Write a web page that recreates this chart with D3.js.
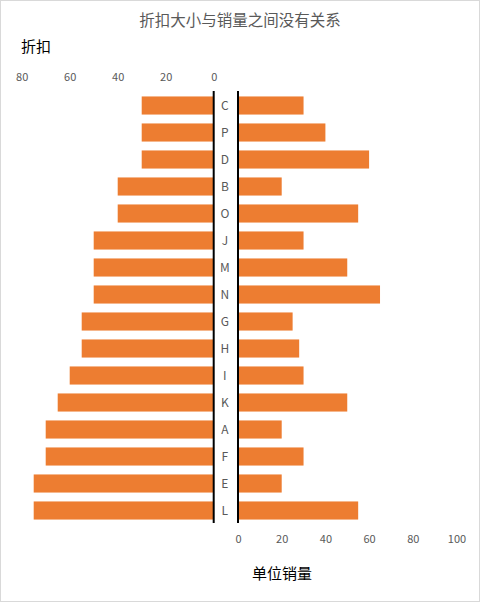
<!DOCTYPE html>
<html><head><meta charset="utf-8">
<script src="https://cdn.jsdelivr.net/npm/d3@7"></script>
<style>
html,body{margin:0;padding:0;background:#fff;}
svg{display:block;}
text{font-family:"Noto Sans CJK SC","Noto Sans",sans-serif;}
</style></head>
<body>
<svg id="chart" width="480" height="602"></svg>
<script>
const categories = ["C","P","D","B","O","J","M","N","G","H","I","K","A","F","E","L"];
const discount = [30,30,30,40,40,50,50,50,55,55,60,65,70,70,75,75];
const sales = [30,40,60,20,55,30,50,65,25,28,30,50,20,30,20,55];
const leftTicks = [0,20,40,60,80];
const rightTicks = [0,20,40,60,80,100];
const title = "折扣大小与销量之间没有关系";
const leftTitle = "折扣";
const rightTitle = "单位销量";

const svg = d3.select("#chart");
const W = 480, H = 602;
const barColor = "#ED7D31";
const grey = "#595959";

svg.append("rect").attr("x",0.5).attr("y",0.5).attr("width",W-1).attr("height",H-1)
  .attr("fill","#fff").attr("stroke","#d9d9d9");

const y = d3.scaleBand().domain(categories).range([92, 524]).paddingInner(0.33).paddingOuter(0.165);
const xL = d3.scaleLinear().domain([0,80]).range([213.7, 21.7]);
const xR = d3.scaleLinear().domain([0,100]).range([238, 456.5]);

// bars
svg.append("g").selectAll("rect").data(categories).join("rect")
  .attr("x",(d,i)=>xL(discount[i]))
  .attr("y",d=>y(d))
  .attr("width",(d,i)=>xL(0)-xL(discount[i]))
  .attr("height",y.bandwidth())
  .attr("fill",barColor);
svg.append("g").selectAll("rect").data(categories).join("rect")
  .attr("x",xR(0))
  .attr("y",d=>y(d))
  .attr("width",(d,i)=>xR(sales[i])-xR(0))
  .attr("height",y.bandwidth())
  .attr("fill",barColor);

// axes
const gL = svg.append("g").attr("transform","translate(0,77)")
  .call(d3.axisTop(xL).tickValues(leftTicks).tickSize(0).tickPadding(0));
const gR = svg.append("g").attr("transform","translate(0,539)")
  .call(d3.axisBottom(xR).tickValues(rightTicks).tickSize(0).tickPadding(0));
[gL,gR].forEach(g=>{
  g.select(".domain").remove();
  g.selectAll("text").attr("fill",grey).attr("font-size",11)
    .attr("dy","0.35em").attr("y",0)
    .style("font-family","'Noto Sans CJK SC',sans-serif");
});

// vertical lines
[xL(0), xR(0)].forEach(x=>{
  svg.append("line").attr("x1",x).attr("x2",x).attr("y1",91).attr("y2",523)
    .attr("stroke","#000").attr("stroke-width",2);
});

// category labels
const midX = (xL(0)+xR(0))/2 - 1;
svg.append("g").selectAll("text").data(categories).join("text")
  .attr("x",midX).attr("y",d=>y(d)+y.bandwidth()/2)
  .attr("dy","0.35em").attr("text-anchor","middle")
  .attr("font-size",12).attr("fill",grey).text(d=>d);

// titles
svg.append("text").attr("x",240).attr("y",21).attr("dy","0.35em").attr("text-anchor","middle")
  .attr("font-size",15.5).attr("fill",grey).text(title);
svg.append("text").attr("x",21).attr("y",47).attr("dy","0.35em")
  .attr("font-size",15).attr("fill","#000").text(leftTitle);
svg.append("text").attr("x",282).attr("y",574).attr("dy","0.35em").attr("text-anchor","middle")
  .attr("font-size",15).attr("fill","#000").text(rightTitle);
</script>
</body></html>
